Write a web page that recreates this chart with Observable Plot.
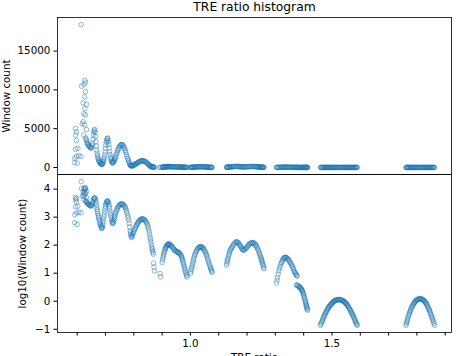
<!DOCTYPE html>
<html><head><meta charset="utf-8">
<script src="https://cdn.jsdelivr.net/npm/d3@7"></script>
<script src="https://cdn.jsdelivr.net/npm/@observablehq/plot@0.6"></script>
<style>
html,body{margin:0;padding:0;background:#fff;}
#chart{position:relative;width:474px;height:356px;overflow:hidden;background:#fff;}
#chart svg{position:absolute;left:0;}
</style></head><body><div id="chart"></div>
<script>
// ---- data (TRE ratio, log10 of window count) ----
const sparseRatio = [0.5905,0.6000,0.5915,0.5975,0.6057,0.5940,0.6021,0.5975,0.5940,0.5975,0.5940,0.6134,0.6141,0.6268,0.6293,0.6233,0.6152,0.6293,0.6258,0.6212,0.6329,0.6268,0.6233,0.6293,0.6212,0.6177,0.6258,0.6329,0.6233];
const sparseLog10 = [2.80,2.74,3.08,3.15,3.18,3.37,3.39,3.54,3.62,3.66,3.70,3.15,4.265,4.05,4.04,4.03,4.02,3.99,3.96,3.92,3.91,3.88,3.84,3.83,3.77,3.75,3.74,3.69,3.62];

const waveRatio = [0.6304,0.6329,0.6364,0.6399,0.6434,0.6480,0.6505,0.6540,0.6576,0.6601,0.6636,0.6664,0.6692,0.6717,0.6742,0.6770,0.6798,0.6830,0.6858,0.6883,0.6904,0.6929,0.6954,0.6982,0.7010,0.7042,0.7070,0.7099,0.7130,0.7159,0.7187,0.7219,0.7247,0.7275,0.7307,0.7335,0.7363,0.7406,0.7448,0.7494,0.7540,0.7586,0.7635,0.7678,0.7717,0.7759,0.7802,0.7837,0.7872,0.7897,0.7918,0.7953,0.7989,0.8031,0.8070,0.8112,0.8151,0.8190,0.8236,0.8278,0.8324,0.8370,0.8423,0.8466,0.8508,0.8543,0.8579,0.8607,0.8635,0.8660,0.8685];
const waveLog10 = [3.58,3.54,3.49,3.46,3.43,3.40,3.42,3.49,3.62,3.68,3.66,3.52,3.35,3.20,3.05,2.93,2.81,2.70,2.61,2.62,2.75,2.93,3.11,3.30,3.46,3.54,3.58,3.52,3.40,3.22,3.05,2.88,2.77,2.82,2.93,3.05,3.17,3.28,3.37,3.43,3.46,3.47,3.44,3.38,3.29,3.15,2.99,2.78,2.51,2.38,2.27,2.36,2.45,2.56,2.65,2.74,2.81,2.87,2.91,2.93,2.93,2.91,2.85,2.76,2.63,2.46,2.27,2.10,1.92,1.80,1.68];
const waveRatioB = [0.6316,0.6346,0.6381,0.6416,0.6457,0.6492,0.6522,0.6558,0.6588,0.6618,0.6650,0.6678,0.6704,0.6729,0.6756,0.6784,0.6814,0.6844,0.6870,0.6893,0.6916,0.6941,0.6968,0.6996,0.7026,0.7056,0.7084,0.7114,0.7144,0.7173,0.7203,0.7233,0.7261,0.7291,0.7321,0.7349,0.7384,0.7427,0.7471,0.7517,0.7563,0.7610,0.7656,0.7697,0.7738,0.7780,0.7819,0.7854,0.7884,0.7907,0.7935,0.7971,0.8010,0.8050,0.8091,0.8131,0.8170,0.8213,0.8257,0.8301,0.8347,0.8396,0.8444,0.8487,0.8525,0.8561,0.8593,0.8621,0.8647,0.8672];
const waveLog10B = [3.56,3.51,3.47,3.44,3.41,3.40,3.45,3.56,3.66,3.69,3.60,3.44,3.27,3.12,2.99,2.87,2.75,2.65,2.60,2.68,2.84,3.02,3.21,3.39,3.51,3.57,3.56,3.47,3.31,3.13,2.96,2.82,2.78,2.87,2.99,3.11,3.23,3.33,3.40,3.45,3.47,3.46,3.41,3.34,3.22,3.07,2.90,2.65,2.44,2.32,2.31,2.41,2.51,2.61,2.70,2.78,2.84,2.89,2.92,2.94,2.92,2.88,2.81,2.70,2.55,2.37,2.19,2.01,1.86,1.74];

const tailRatio = [0.8696,0.8713,0.8731,0.8928,0.8950];
const tailLog10 = [1.36,1.22,1.08,0.99,0.87];

const arcERatio = [0.9003,0.9031,0.9059,0.9091,0.9119,0.9147,0.9179,0.9207,0.9236,0.9278,0.9320,0.9366,0.9412,0.9458,0.9508,0.9550,0.9589,0.9631,0.9674,0.9702,0.9730,0.9762,0.9790,0.9818,0.9850,0.9886];
const arcELog10 = [1.38,1.55,1.68,1.80,1.89,1.95,2.00,2.03,2.04,2.02,1.98,1.92,1.86,1.81,1.77,1.75,1.73,1.69,1.62,1.54,1.44,1.32,1.20,1.08,0.96,0.87];
const arcERatioB = [0.9017,0.9045,0.9075,0.9105,0.9133,0.9163,0.9193,0.9222,0.9257,0.9299,0.9343,0.9389,0.9435,0.9483,0.9529,0.9570,0.9610,0.9653,0.9688,0.9716,0.9746,0.9776,0.9804,0.9834,0.9868];
const arcELog10B = [1.47,1.62,1.74,1.85,1.92,1.98,2.02,2.04,2.03,2.00,1.95,1.89,1.83,1.79,1.76,1.74,1.71,1.66,1.58,1.49,1.38,1.26,1.14,1.02,0.91];

const arcFRatio = [1.0002,1.0030,1.0062,1.0090,1.0119,1.0161,1.0203,1.0249,1.0295,1.0338,1.0380,1.0426,1.0472,1.0514,1.0557,1.0592,1.0627,1.0666,1.0709,1.0737,1.0769];
const arcFLog10 = [0.99,1.13,1.26,1.40,1.54,1.67,1.77,1.86,1.92,1.94,1.94,1.91,1.86,1.78,1.68,1.57,1.44,1.32,1.20,1.11,1.03];
const arcFRatioB = [1.0016,1.0046,1.0076,1.0105,1.0140,1.0182,1.0226,1.0272,1.0316,1.0359,1.0403,1.0449,1.0493,1.0535,1.0575,1.0610,1.0647,1.0688,1.0723,1.0753];
const arcFLog10B = [1.06,1.20,1.33,1.47,1.61,1.72,1.82,1.89,1.93,1.95,1.93,1.89,1.82,1.73,1.63,1.51,1.38,1.26,1.15,1.07];

const arcGRatio = [1.1274,1.1302,1.1327,1.1362,1.1397,1.1440,1.1486,1.1546,1.1609,1.1655,1.1698,1.1744,1.1786,1.1832,1.1874,1.1927,1.1980,1.2033,1.2086,1.2139,1.2192,1.2245,1.2298,1.2334,1.2379,1.2422,1.2457,1.2492,1.2521,1.2545,1.2574,1.2598];
const arcGLog10 = [1.29,1.42,1.54,1.67,1.79,1.88,1.96,2.05,2.12,2.10,2.07,2.00,1.93,1.86,1.82,1.86,1.91,1.98,2.04,2.07,2.09,2.08,2.02,1.96,1.86,1.75,1.65,1.54,1.45,1.36,1.26,1.16];
const arcGRatioB = [1.1288,1.1315,1.1345,1.1380,1.1419,1.1463,1.1516,1.1578,1.1632,1.1677,1.1721,1.1765,1.1809,1.1853,1.1900,1.1954,1.2007,1.2060,1.2113,1.2166,1.2219,1.2272,1.2316,1.2357,1.2401,1.2440,1.2475,1.2507,1.2533,1.2560,1.2586];
const arcGLog10B = [1.36,1.48,1.61,1.73,1.84,1.92,2.01,2.09,2.12,2.09,2.04,1.97,1.89,1.83,1.83,1.88,1.95,2.01,2.06,2.08,2.09,2.05,1.99,1.91,1.81,1.70,1.60,1.50,1.41,1.31,1.21];

const arcHRatio = [1.3040,1.3075,1.3121,1.3167,1.3217,1.3259,1.3298,1.3340,1.3383,1.3429,1.3475,1.3524,1.3570,1.3613,1.3651,1.3693,1.3732,1.3771];
const arcHLog10 = [0.65,0.85,1.08,1.24,1.38,1.47,1.54,1.56,1.56,1.52,1.46,1.38,1.30,1.21,1.11,1.02,0.95,0.89];
const arcHRatioB = [1.3057,1.3098,1.3144,1.3192,1.3238,1.3279,1.3319,1.3361,1.3406,1.3452,1.3500,1.3547,1.3592,1.3632,1.3672,1.3712,1.3752];
const arcHLog10B = [0.75,0.97,1.17,1.32,1.43,1.51,1.56,1.57,1.54,1.49,1.42,1.34,1.26,1.16,1.06,0.98,0.92];

const arcIRatio = [1.3746,1.3792,1.3835,1.3870,1.3905,1.3934,1.3958,1.3987,1.4011,1.4040,1.4064,1.4082,1.4100,1.4118,1.4135];
const arcILog10 = [0.58,0.55,0.52,0.49,0.45,0.40,0.35,0.27,0.18,0.08,-0.02,-0.10,-0.18,-0.25,-0.32];
const arcIRatioB = [1.3769,1.3813,1.3852,1.3887,1.3920,1.3946,1.3972,1.3999,1.4025,1.4052,1.4073,1.4091,1.4109,1.4126];
const arcILog10B = [0.57,0.54,0.51,0.47,0.43,0.38,0.31,0.23,0.13,0.03,-0.06,-0.14,-0.22,-0.29];

const arcJRatio = [1.4594,1.4629,1.4665,1.4700,1.4735,1.4771,1.4806,1.4841,1.4877,1.4912,1.4947,1.4983,1.5018,1.5053,1.5088,1.5124,1.5159,1.5205,1.5248,1.5290,1.5336,1.5371,1.5407,1.5442,1.5477,1.5513,1.5548,1.5583,1.5619,1.5654,1.5689,1.5725,1.5760,1.5795,1.5830,1.5866,1.5891];
const arcJLog10 = [-0.86,-0.77,-0.68,-0.59,-0.50,-0.43,-0.36,-0.29,-0.23,-0.18,-0.13,-0.09,-0.05,-0.02,0.01,0.03,0.04,0.05,0.06,0.05,0.04,0.02,0.00,-0.03,-0.06,-0.10,-0.15,-0.21,-0.27,-0.34,-0.41,-0.48,-0.55,-0.63,-0.72,-0.80,-0.86];
const arcJRatioB = [1.4611,1.4647,1.4683,1.4718,1.4753,1.4789,1.4824,1.4859,1.4895,1.4930,1.4965,1.5001,1.5036,1.5071,1.5106,1.5142,1.5182,1.5227,1.5269,1.5313,1.5354,1.5389,1.5425,1.5460,1.5495,1.5531,1.5566,1.5601,1.5637,1.5672,1.5707,1.5743,1.5778,1.5813,1.5848,1.5879];
const arcJLog10B = [-0.81,-0.72,-0.63,-0.54,-0.46,-0.39,-0.32,-0.26,-0.20,-0.15,-0.11,-0.07,-0.03,0.00,0.02,0.04,0.05,0.06,0.06,0.05,0.03,0.01,-0.01,-0.04,-0.08,-0.12,-0.18,-0.24,-0.30,-0.37,-0.44,-0.51,-0.59,-0.67,-0.76,-0.83];

const arcKRatio = [1.7614,1.7643,1.7667,1.7703,1.7738,1.7773,1.7809,1.7844,1.7879,1.7915,1.7950,1.7985,1.8021,1.8063,1.8109,1.8155,1.8197,1.8232,1.8268,1.8303,1.8338,1.8374,1.8409,1.8444,1.8479,1.8515,1.8550,1.8586,1.8621];
const arcKLog10 = [-0.86,-0.75,-0.65,-0.53,-0.42,-0.33,-0.24,-0.17,-0.10,-0.05,0.00,0.03,0.06,0.08,0.09,0.08,0.06,0.03,0.00,-0.05,-0.10,-0.17,-0.25,-0.33,-0.43,-0.53,-0.63,-0.74,-0.86];
const arcKRatioB = [1.7629,1.7655,1.7685,1.7721,1.7756,1.7791,1.7827,1.7862,1.7897,1.7933,1.7968,1.8003,1.8042,1.8086,1.8132,1.8176,1.8215,1.8250,1.8286,1.8321,1.8356,1.8392,1.8427,1.8462,1.8497,1.8533,1.8568,1.8604];
const arcKLog10B = [-0.80,-0.70,-0.59,-0.47,-0.37,-0.28,-0.20,-0.13,-0.07,-0.02,0.02,0.05,0.07,0.09,0.09,0.07,0.05,0.02,-0.02,-0.07,-0.13,-0.21,-0.29,-0.38,-0.48,-0.58,-0.68,-0.80];

// ---- ticks and labels ----
const xTicks = [0.6,0.7,0.8,0.9,1.0,1.1,1.2,1.3,1.4,1.5,1.6,1.7,1.8,1.9];
const xTickLabels = ["","","","","1.0","","","","","1.5","","","",""];
const countTicks = [0,5000,10000,15000];
const logTicks = [-1,0,1,2,3,4];
const logTickLabels = ["\u22121","0","1","2","3","4"];
const titleText = "TRE ratio histogram";
const xLabel = "TRE ratio";
const yLabelTop = "Window count";
const yLabelBottom = "log10(Window count)";

// ---- build table ----
const segments = [
  [sparseRatio, sparseLog10], [waveRatio, waveLog10], [waveRatioB, waveLog10B], [tailRatio, tailLog10],
  [arcERatio, arcELog10], [arcERatioB, arcELog10B], [arcFRatio, arcFLog10], [arcFRatioB, arcFLog10B],
  [arcGRatio, arcGLog10], [arcGRatioB, arcGLog10B], [arcHRatio, arcHLog10], [arcHRatioB, arcHLog10B],
  [arcIRatio, arcILog10], [arcIRatioB, arcILog10B], [arcJRatio, arcJLog10], [arcJRatioB, arcJLog10B],
  [arcKRatio, arcKLog10], [arcKRatioB, arcKLog10B]
];
const rows = segments.flatMap(([xs, ls]) =>
  xs.slice(0, Math.min(xs.length, ls.length)).map((x, i) => ({ratio: x, log10: ls[i], count: Math.pow(10, ls[i])})));

const C0 = "#1f77b4";
const font = "DejaVu Sans, sans-serif";
const xDomain = [0.5304, 1.9222];
const dotOpts = {r: 2.3, fill: "none", stroke: C0, strokeOpacity: 0.5, strokeWidth: 1};
const lookup = (ticks, labels) => d => { const i = ticks.findIndex(t => Math.abs(t - d) < 1e-9); return i < 0 ? "" : labels[i]; };

const topPlot = Plot.plot({
  width: 474, height: 175,
  marginTop: 17, marginBottom: 1, marginLeft: 57, marginRight: 23,
  style: {fontFamily: font, fontSize: "10.3px", background: "transparent", color: "black"},
  x: {domain: xDomain, axis: null},
  y: {domain: [-910, 19330]},
  marks: [
    Plot.axisY({ticks: countTicks, tickSize: 3.6, tickPadding: 3.6, label: null, tickFormat: d => String(d), fontSize: 10.3}),
    Plot.dot(rows, {x: "ratio", y: "count", ...dotOpts}),
    Plot.frame({stroke: "black", strokeWidth: 0.8}),
    Plot.text([titleText], {frameAnchor: "top", dy: -6.2, lineAnchor: "bottom", fontSize: 12.3}),
    Plot.text([yLabelTop], {frameAnchor: "left", dx: -47.4, rotate: -90, lineAnchor: "bottom", textAnchor: "middle", fontSize: 10.3})
  ]
});
topPlot.style.top = "0px";

const bottomPlot = Plot.plot({
  width: 474, height: 183,
  marginTop: 1, marginBottom: 24, marginLeft: 57, marginRight: 23,
  style: {fontFamily: font, fontSize: "10.3px", background: "transparent", color: "black"},
  x: {domain: xDomain},
  y: {domain: [-1.116, 4.521]},
  marks: [
    Plot.axisX({ticks: xTicks, tickFormat: lookup(xTicks, xTickLabels), tickSize: 3.6, tickPadding: 3.6, label: null, fontSize: 10.3}),
    Plot.axisY({ticks: logTicks, tickFormat: lookup(logTicks, logTickLabels), tickSize: 3.6, tickPadding: 3.6, label: null, fontSize: 10.3}),
    Plot.dot(rows, {x: "ratio", y: "log10", ...dotOpts}),
    Plot.frame({stroke: "black", strokeWidth: 0.8}),
    Plot.text([yLabelBottom], {frameAnchor: "left", dx: -31.4, rotate: -90, lineAnchor: "bottom", textAnchor: "middle", fontSize: 10.3}),
    Plot.text([xLabel], {frameAnchor: "bottom", dy: 28.6, lineAnchor: "bottom", textAnchor: "middle", fontSize: 10.3})
  ]
});
bottomPlot.style.top = "173px";

document.getElementById("chart").append(topPlot, bottomPlot);
</script></body></html>
